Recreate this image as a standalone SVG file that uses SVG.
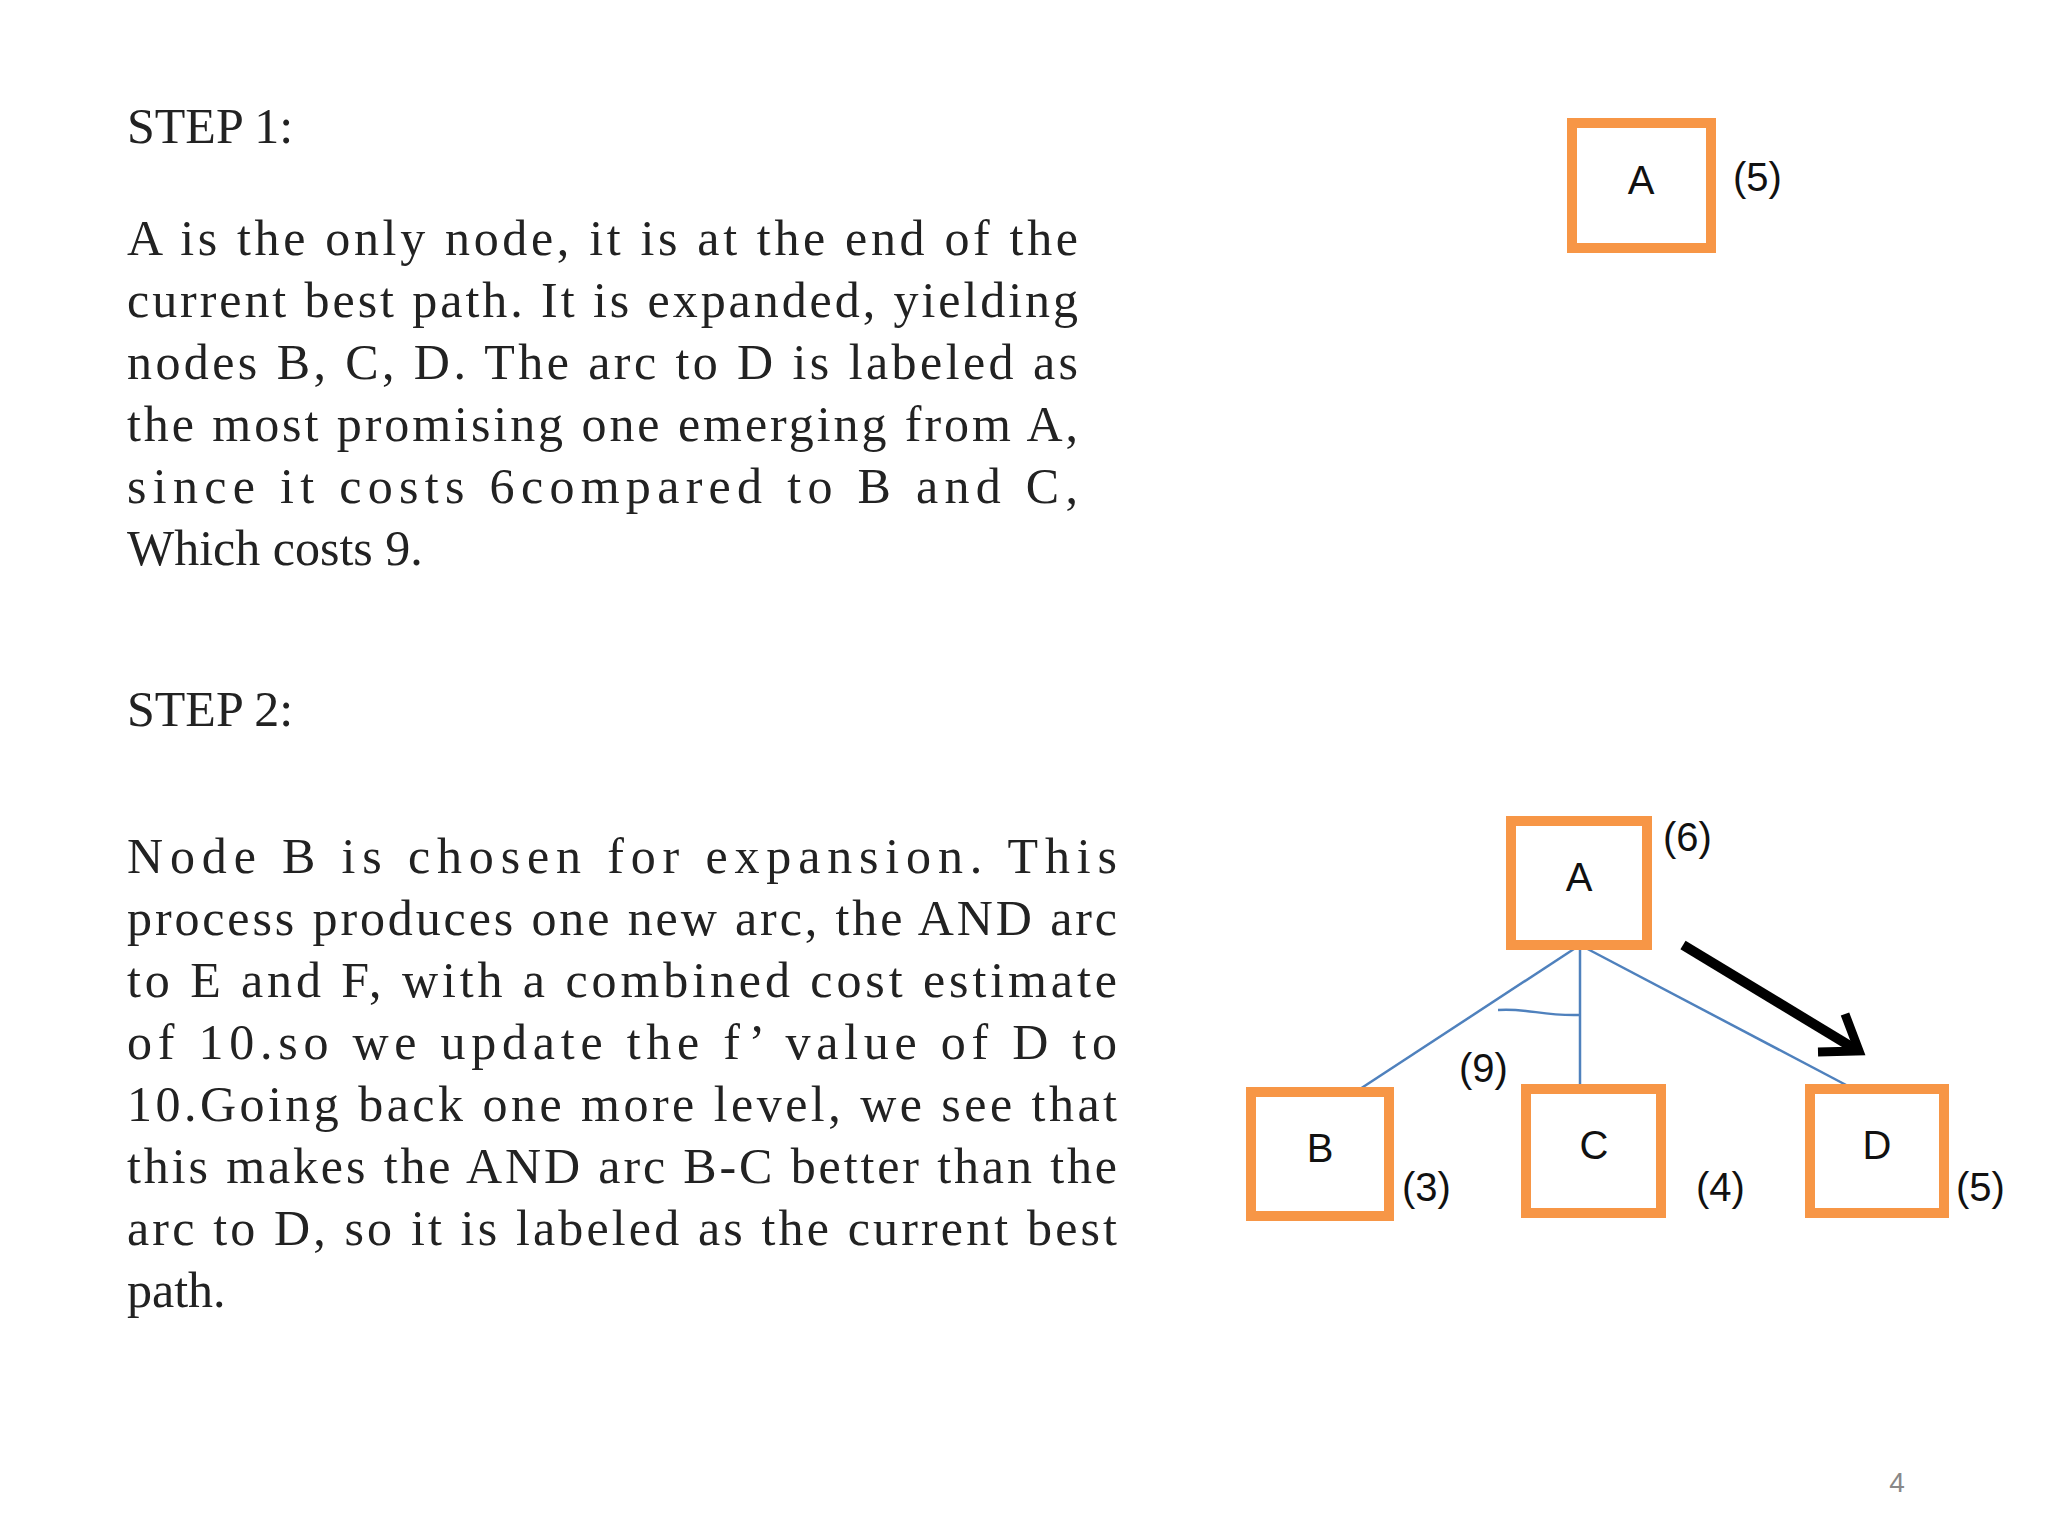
<svg xmlns="http://www.w3.org/2000/svg" width="2048" height="1536" viewBox="0 0 2048 1536">
<style>
.t{font-family:"Liberation Serif","DejaVu Serif",serif;font-size:50px;fill:#222}
.box{fill:#fff;stroke:#F79646;stroke-width:10}
.lb{font-family:"Liberation Sans","DejaVu Sans",sans-serif;font-size:40px;fill:#111}
.e{stroke:#4F81BD;stroke-width:2.5;fill:none}
</style>
<rect width="2048" height="1536" fill="#fff"/>
<text class="t" x="127" y="143">STEP 1:</text>
<g class="t">
<text x="127" y="255" textLength="951" lengthAdjust="spacing">A is the only node, it is at the end of the</text>
<text x="127" y="317" textLength="951" lengthAdjust="spacing">current best path. It is expanded, yielding</text>
<text x="127" y="379" textLength="951" lengthAdjust="spacing">nodes B, C, D. The arc to D is labeled as</text>
<text x="127" y="441" textLength="951" lengthAdjust="spacing">the most promising one emerging from A,</text>
<text x="127" y="503" textLength="951" lengthAdjust="spacing">since it costs 6compared to B and C,</text>
<text x="127" y="565">Which costs 9.</text>
</g>
<text class="t" x="127" y="726">STEP 2:</text>
<g class="t">
<text x="127" y="873" textLength="990" lengthAdjust="spacing">Node B is chosen for expansion. This</text>
<text x="127" y="935" textLength="990" lengthAdjust="spacing">process produces one new arc, the AND arc</text>
<text x="127" y="997" textLength="990" lengthAdjust="spacing">to E and F, with a combined cost estimate</text>
<text x="127" y="1059" textLength="990" lengthAdjust="spacing">of 10.so we update the f’ value of D to</text>
<text x="127" y="1121" textLength="990" lengthAdjust="spacing">10.Going back one more level, we see that</text>
<text x="127" y="1183" textLength="990" lengthAdjust="spacing">this makes the AND arc B-C better than the</text>
<text x="127" y="1245" textLength="990" lengthAdjust="spacing">arc to D, so it is labeled as the current best</text>
<text x="127" y="1307">path.</text>
</g>
<g id="s1A"><rect class="box" x="1572" y="123" width="139" height="125"/><text class="lb" x="1641" y="194" text-anchor="middle">A</text></g>
<text class="lb" x="1733" y="191">(5)</text>
<g id="connectors">
<line class="e" x1="1580" y1="945" x2="1360" y2="1089"/>
<line class="e" x1="1580" y1="945" x2="1580" y2="1086"/>
<line class="e" x1="1580" y1="945" x2="1848" y2="1086"/>
<path class="e" d="M1498,1010 C1530,1008 1540,1016 1579,1015"/>
<path d="M1683,945 L1855,1049" stroke="#000" stroke-width="10" fill="none"/>
<path d="M1818,1052 L1859,1051 L1845,1014" stroke="#000" stroke-width="9" fill="none"/>
</g>
<g id="A"><rect class="box" x="1511" y="821" width="136" height="124"/><text class="lb" x="1579" y="891" text-anchor="middle">A</text></g>
<text class="lb" x="1663" y="851">(6)</text>
<g id="B"><rect class="box" x="1251" y="1092" width="138" height="124"/><text class="lb" x="1320" y="1162" text-anchor="middle">B</text></g>
<text class="lb" x="1402" y="1201">(3)</text>
<g id="C"><rect class="box" x="1526" y="1089" width="135" height="124"/><text class="lb" x="1594" y="1159" text-anchor="middle">C</text></g>
<text class="lb" x="1696" y="1201">(4)</text>
<g id="D"><rect class="box" x="1810" y="1089" width="134" height="124"/><text class="lb" x="1877" y="1159" text-anchor="middle">D</text></g>
<text class="lb" x="1956" y="1201">(5)</text>
<text class="lb" x="1459" y="1082">(9)</text>
<text x="1897" y="1492" font-family="Liberation Sans,sans-serif" font-size="28" fill="#888" text-anchor="middle">4</text>
</svg>
